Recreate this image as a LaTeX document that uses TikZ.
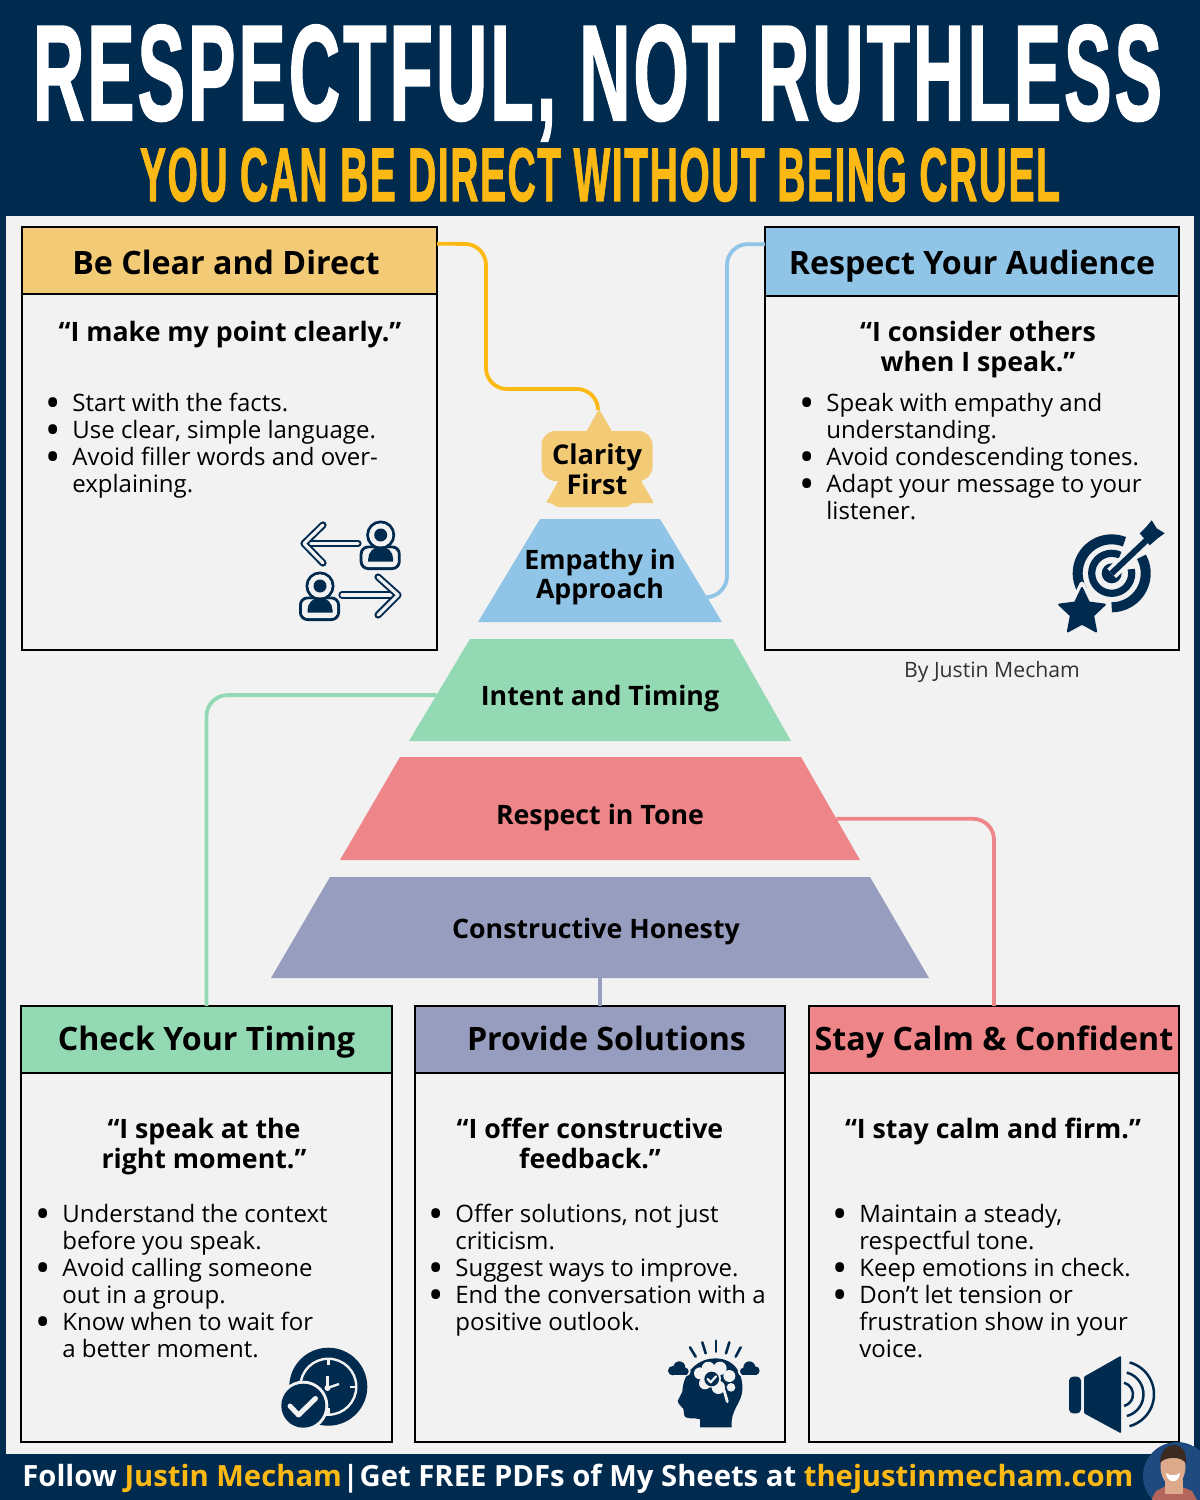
\documentclass[tikz,border=0pt]{standalone}
\usepackage{fontspec}
\setmainfont{Open Sans}
\newfontfamily\titlefont[FakeBold=1.6,LetterSpace=4]{Liberation Sans Bold}
\usetikzlibrary{shapes.geometric,calc}
\definecolor{navy}{HTML}{012A4F}
\definecolor{panel}{HTML}{F2F2F2}
\definecolor{amber}{HTML}{FDB913}
\definecolor{cyellow}{HTML}{F3CB77}
\definecolor{cblue}{HTML}{90C5E8}
\definecolor{cgreen}{HTML}{93D9B3}
\definecolor{cred}{HTML}{EE8689}
\definecolor{cpurple}{HTML}{979DBF}
\definecolor{photobg}{HTML}{1E4A80}
\definecolor{skin}{HTML}{DDAA8C}
\definecolor{hair}{HTML}{3A2A22}
\definecolor{shirt}{HTML}{B4655C}
\tikzset{
 cardbody/.style={draw=black,line width=1.35pt,fill=panel,inner sep=0pt,outer sep=0pt,anchor=north west},
 cardhead/.style={draw=black,line width=1.35pt,inner sep=0pt,outer sep=0pt,anchor=north west,font=\fontsize{16.1}{18}\selectfont\bfseries,text height=14pt,text depth=.5pt},
 lowhead/.style={cardhead,text height=11.5pt,text depth=1pt},
 quote/.style={inner sep=0pt,anchor=north,align=center,font=\fontsize{13.36}{15}\selectfont\bfseries},
 bullets/.style={inner sep=0pt,anchor=north west,align=left,font=\fontsize{12}{13.5}\selectfont},
 tierlab/.style={inner sep=0pt,anchor=north,align=center,font=\fontsize{13.37}{14.5}\selectfont\bfseries},
 link/.style={line width=1.9pt,rounded corners=10.5pt},
}
\newcommand{\bul}{\llap{\smash{\raisebox{-3.2pt}{\scalebox{1.7}{\textbullet}}}\hspace{6pt}}}
\newcommand{\personicon}[2]{%
 \begin{scope}[shift={(#1,#2)}]
  \path[draw=navy,line width=1.5pt,fill=panel] (0,0) circle[radius=13];
  \path[draw=navy,line width=1.5pt,fill=panel,rounded corners=3.5pt] (-19.5,12) rectangle (18.5,33.5);
  \path[fill=panel] (0,0) circle[radius=11.6];
  \path[fill=panel,rounded corners=3pt] (-18,13.4) rectangle (17,32);
  \fill[navy] (0,0) circle[radius=6.5];
  \fill[navy] (-12.5,26.7) -- (-12.5,24) arc[start angle=180,end angle=360,radius=12.5] -- (12.5,26.7) -- cycle;
 \end{scope}}
\newcommand{\hollowline}[1]{%
 \draw[navy,line width=3.6pt,line cap=round,line join=round] #1;
 \draw[panel,line width=1.6pt,line cap=round,line join=round] #1;}
\begin{document}
\begin{tikzpicture}[x=0.5pt,y=-0.5pt]
\useasboundingbox (0,0) rectangle (1200,1500);
\fill[navy] (0,0) rectangle (1200,1500);
\fill[panel] (6,216) rectangle (1194,1454);
% title
\node[inner sep=0pt,anchor=base,text=white] (title) at (597.5,120) {\resizebox{564.5pt}{47.5pt}{\titlefont RESPECTFUL, NOT RUTHLESS}};
\node[inner sep=0pt,anchor=base,text=amber] (subtitle) at (600,201) {\resizebox{460pt}{26.5pt}{\titlefont YOU CAN BE DIRECT WITHOUT BEING CRUEL}};
% cards
\node[cardbody,minimum width=207.5pt,minimum height=211.5pt] (b1) at (22,227) {};
\node[cardhead,fill=cyellow,minimum width=207.5pt,minimum height=33.5pt] (h1) at (22,227) {Be Clear and Direct\hspace*{3.5pt}};
\node[cardbody,minimum width=207pt,minimum height=211.5pt] (b2) at (765,227) {};
\node[cardhead,fill=cblue,minimum width=207pt,minimum height=34.5pt,text height=13.5pt] (h2) at (765,227) {Respect Your Audience};
\node[cardbody,minimum width=185.5pt,minimum height=218pt] (b3) at (21,1006) {};
\node[lowhead,fill=cgreen,minimum width=185.5pt,minimum height=33.5pt] (h3) at (21,1006) {Check Your Timing};
\node[cardbody,minimum width=185pt,minimum height=218pt] (b4) at (415,1006) {};
\node[lowhead,fill=cpurple,minimum width=185pt,minimum height=33.5pt] (h4) at (415,1006) {\hspace*{6.5pt}Provide Solutions};
\node[cardbody,minimum width=185pt,minimum height=218pt] (b5) at (809,1006) {};
\node[lowhead,fill=cred,minimum width=185pt,minimum height=33.5pt] (h5) at (809,1006) {Stay Calm \& Confident};
% quotes
\node[quote] (q1) at (230,320) {\strut “I make my point clearly.”};
\node[quote] (q2) at (978,320) {\strut “I consider others\\when I speak.”};
\node[quote] (q3) at (204,1117) {\strut “I speak at the\\right moment.”};
\node[quote] (q4) at (590,1117) {\strut “I offer constructive\\feedback.”};
\node[quote] (q5) at (993,1117) {\strut “I stay calm and firm.”};
% bullets
\node[bullets] (l1) at (72,392) {\strut\bul Start with the facts.\\\bul Use clear, simple language.\\\bul Avoid filler words and over-\\explaining.};
\node[bullets] (l2) at (826,392) {\strut\bul Speak with empathy and\\understanding.\\\bul Avoid condescending tones.\\\bul Adapt your message to your\\listener.};
\node[bullets] (l3) at (62,1203) {\strut\bul Understand the context\\before you speak.\\\bul Avoid calling someone\\out in a group.\\\bul Know when to wait for\\a better moment.};
\node[bullets] (l4) at (455,1203) {\strut\bul Offer solutions, not just\\criticism.\\\bul Suggest ways to improve.\\\bul End the conversation with a\\positive outlook.};
\node[bullets] (l5) at (859,1203) {\strut\bul Maintain a steady,\\respectful tone.\\\bul Keep emotions in check.\\\bul Don’t let tension or\\frustration show in your\\voice.};
\node[inner sep=0pt,anchor=base,text=black!80,font=\fontsize{10.6}{12}\selectfont] (by) at (992,677) {By Justin Mecham};
% pyramid tiers: corner coordinates
\coordinate (t2tl) at (540,519); \coordinate (t2tr) at (660,519); \coordinate (t2br) at (722,622); \coordinate (t2bl) at (478,622);
\coordinate (t3tl) at (470,639); \coordinate (t3tr) at (733,639); \coordinate (t3br) at (791,741); \coordinate (t3bl) at (409,741);
\coordinate (t4tl) at (400,757); \coordinate (t4tr) at (801,757); \coordinate (t4br) at (860,860); \coordinate (t4bl) at (340,860);
\coordinate (t5tl) at (330,877); \coordinate (t5tr) at (870,877); \coordinate (t5br) at (929,978); \coordinate (t5bl) at (271,978);
\fill[cblue] (t2tl) -- (t2tr) -- (t2br) -- (t2bl) -- cycle;
\fill[cgreen] (t3tl) -- (t3tr) -- (t3br) -- (t3bl) -- cycle;
\fill[cred] (t4tl) -- (t4tr) -- (t4br) -- (t4bl) -- cycle;
\fill[cpurple] (t5tl) -- (t5tr) -- (t5br) -- (t5bl) -- cycle;
% connectors
\coordinate (s1) at ($(h1.north east)!.25!(h1.south east)$);
\coordinate (s2) at ($(h2.north west)!.25!(h2.south west)$);
\coordinate (apex) at (598,410);
\coordinate (e2) at ($(t2tr)!.76!(t2br)$);
\coordinate (e3) at ($(t3tl)!.55!(t3bl)$);
\coordinate (e4) at ($(t4tr)!.6!(t4br)$);
\coordinate (e5) at ($(t5bl)!.5!(t5br)$);
\draw[link,amber] (s1) -- (486,244) -- (486,389) -- (598,389) -- (apex);
\draw[link,cblue] (s2) -- (727,244) -- (727,597) -- (e2);
\draw[link,cgreen] (e3) -| (h3.north);
\draw[link,cred] (e4) -| (h5.north);
\draw[line width=1.9pt,cpurple] (e5) -- (h4.north);
% clarity shape
\fill[cyellow,rounded corners=1pt] (599,409) -- (654,503) -- (632,503) -- (628,507) -- (556,507) -- (552,503) -- (546,503) -- cycle;
\node[fill=cyellow,rounded corners=7pt,inner sep=0pt,minimum width=55.5pt,minimum height=25pt] (t1) at (597,456) {};
% tier labels
\node[tierlab,font=\fontsize{13.6}{14.9}\selectfont\bfseries] (lt1) at (597,443) {\strut Clarity\\First};
\node[tierlab] (lt2) at (600,549) {\strut Empathy in\\[-1pt]Approach};
\node[tierlab,anchor=base] (lt3) at (600,705) {Intent and Timing};
\node[tierlab,anchor=base] (lt4) at (600,824) {Respect in Tone};
\node[tierlab,anchor=base] (lt5) at (596,938) {Constructive Honesty};
% icon 1
\personicon{380.7}{535}
\personicon{320}{586}
\hollowline{(358,543.5) -- (305,543.5)}
\hollowline{(323,525) -- (304,543.5) -- (323,563)}
\hollowline{(342,595) -- (397,595)}
\hollowline{(378,577) -- (398,595) -- (378,615)}
% icon 2
\begin{scope}[shift={(1111.7,573.3)}]
 \fill[navy] (0,0) circle[radius=10];
 \draw[navy,line width=5pt] (-29:34) arc[start angle=-29,end angle=90,radius=34];
 \draw[navy,line width=5pt] (149:34) arc[start angle=149,end angle=292,radius=34];
 \draw[navy,line width=3.6pt] (-12:20) arc[start angle=-12,end angle=295,radius=20];
 \draw[panel,line width=6.4pt] (0,0) -- (38,-36);
 \draw[navy,line width=3pt] (0,0) -- (40,-38);
 \fill[navy] (28,-40) -- (35,-47) -- (40,-53) -- (45,-45) -- (53,-40) -- (46,-35) -- (38,-28) -- (34,-33) -- cycle;
\end{scope}
\node[star,star points=5,star point ratio=2.05,fill=navy,draw=panel,line width=2.5pt,line join=round,inner sep=0pt,minimum size=28pt] (starhalo) at (1082,612) {};
\node[star,star points=5,star point ratio=2.05,fill=navy,draw=navy,line width=1pt,line join=round,inner sep=0pt,minimum size=24pt] (starshape) at (1082,612) {};
% icon 3
\fill[navy] (328.3,1386.7) circle[radius=39];
\draw[panel,line width=1.2pt] (328.3,1386.7) circle[radius=28];
\draw[panel,line width=1.2pt] (328.3,1358.7) -- (328.3,1365);
\draw[panel,line width=1.2pt] (356.3,1386.7) -- (350,1386.7);
\draw[panel,line width=1.2pt] (328.3,1414.7) -- (328.3,1408);
\draw[panel,line width=1.2pt] (327.5,1386.7) -- (327.5,1376);
\draw[panel,line width=1.2pt] (327.5,1388) -- (339,1384);
\fill[panel] (327.5,1388) circle[radius=3];
\fill[panel] (303.3,1405.7) circle[radius=25];
\fill[navy] (303.3,1405.7) circle[radius=22];
\draw[panel,line width=2.5pt,line cap=round,line join=round] (290,1406) -- (298.5,1415) -- (315.5,1398.5);
% icon 4
\begin{scope}[shift={(650,1330)},scale=1/3]
 \foreach \a/\b/\c/\d in {198/32/198/65,157/37/167/70,120/52/137/80,238/37/228/70,272/52/257/80}
  \draw[navy,line width=1.3pt,line cap=round] (\a,\b) -- (\c,\d);
 \fill[navy] (150,292) -- (150,268) .. controls (130,262) and (125,268) .. (107,262) .. controls (98,255) and (105,245) .. (100,236) .. controls (96,230) and (86,225) .. (83,213) -- (97,185) .. controls (100,120) and (150,85) .. (195,85) .. controls (260,85) and (280,140) .. (277,180) .. controls (275,220) and (240,240) .. (245,292) -- cycle;
 \foreach \a/\b/\r in {150/130/18,175/115/20,210/115/20,238/138/18,243/172/13,205/172/20,165/160/18,185/145/28}
  \fill[panel] (\a,\b) circle[radius=\r];
 \draw[panel,line width=1.4pt,line cap=round] (222,180) -- (232,215);
 \fill[navy] (185,147) circle[radius=22];
 \draw[panel,line width=1.1pt,line cap=round,line join=round] (173,147) -- (182,157) -- (198,139);
 \foreach \a/\b/\r in {68/122/18,88/112/22,107/124/15,278/124/15,298/112/22,316/122/17}
  \fill[panel] (\a,\b) circle[radius=\r];
 \foreach \a/\b/\r in {68/122/14,88/112/18,105/124/11,281/124/11,298/112/18,316/122/13}
  \fill[navy] (\a,\b) circle[radius=\r];
 \fill[navy] (62,124) rectangle (110,135);
 \fill[navy] (276,124) rectangle (322,135);
\end{scope}
% icon 5
\fill[navy,rounded corners=2pt] (1081,1376.7) -- (1069,1376.7) -- (1069,1413.3) -- (1081,1413.3) -- cycle;
\fill[navy,rounded corners=.5pt] (1084,1376.7) -- (1121,1355.7) -- (1121,1433.3) -- (1084,1413.3) -- cycle;
\foreach \r in {12,22.5,33}
 \draw[navy,line width=1.25pt] ($(1121,1394.3)+(-75:\r)$) arc[start angle=-75,end angle=75,radius=\r];
% footer
\node[inner sep=0pt,anchor=base west,text=white] (foot) at (22,1486) {\resizebox{555.5pt}{!}{\fontsize{14.5}{16}\selectfont\bfseries Follow \textcolor{amber}{Justin Mecham}\hspace{.4pt}|\hspace{.4pt}Get FREE PDFs of My Sheets at \textcolor{amber}{thejustinmecham.com}}};
% portrait
\begin{scope}
 \clip (1177,1476) circle[radius=34];
 \fill[photobg] (1177,1476) circle[radius=34];
 \fill[shirt] (1150,1502) -- (1156,1491) -- (1166,1486) -- (1180,1486) -- (1192,1491) -- (1198,1502) -- cycle;
 \fill[skin] (1165,1476) rectangle (1183,1494);
 \fill[skin] (1173,1466) ellipse[x radius=12.5,y radius=20];
 \fill[hair] (1160,1463) .. controls (1160,1450) and (1168,1445) .. (1174,1445) .. controls (1182,1445) and (1187,1452) .. (1186,1464) .. controls (1183,1456) and (1165,1456) .. (1160,1463) -- cycle;
 \fill[white] (1166,1473) .. controls (1170,1476) and (1176,1476) .. (1180,1473) .. controls (1179,1484) and (1167,1484) .. (1166,1473) -- cycle;
\end{scope}
\end{tikzpicture}
\end{document}
